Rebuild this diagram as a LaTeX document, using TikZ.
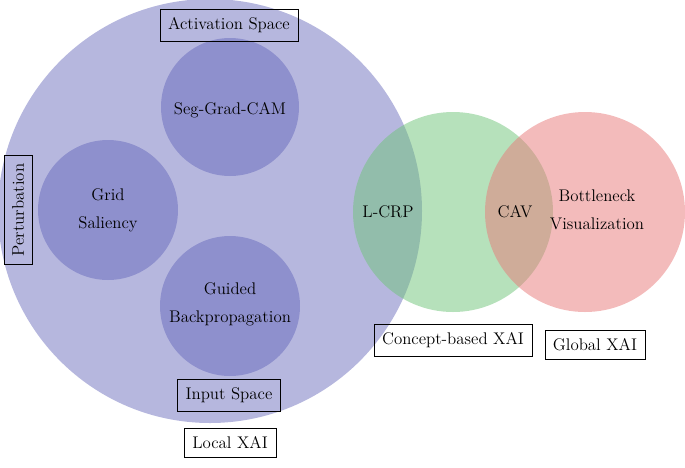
\documentclass[tikz,border=0pt]{standalone}
\begin{document}
\begin{tikzpicture}[x=0.03cm,y=-0.03cm,
  lbl/.style={font=\Large,align=center},
  box/.style={draw,font=\Large,inner sep=7pt}]
\useasboundingbox (0,0) rectangle (685,467);
\definecolor{bl}{RGB}{110,112,190}
\definecolor{gr}{RGB}{110,195,120}
\definecolor{rd}{RGB}{232,120,120}
\fill[bl,opacity=0.5] (210,211) circle (212);
\fill[bl,opacity=0.55] (230,107) circle (69);
\fill[bl,opacity=0.55] (108,210) circle (70);
\fill[bl,opacity=0.55] (230,306) circle (70);
\fill[gr,opacity=0.5] (453,212) circle (100);
\fill[rd,opacity=0.5] (585,212) circle (100);
\node[lbl] (sg) at (230,110) {Seg-Grad-CAM};
\node[lbl] (gs) at (108,210) {Grid\\[6pt]Saliency};
\node[lbl] (gb) at (230,304) {Guided\\[6pt]Backpropagation};
\node[lbl] (lc) at (388,212) {L-CRP};
\node[lbl] (cav) at (515,212) {CAV};
\node[lbl] (bv) at (597,210) {Bottleneck\\[6pt]Visualization};
\node[box] (as) at (229,25) {Activation Space};
\node[box,rotate=90] (pt) at (18,210) {Perturbation};
\node[box] (is) at (229,395) {Input Space};
\node[box] (lx) at (230,443) {Local XAI};
\node[box] (cx) at (453,340) {Concept-based XAI};
\node[box] (gx) at (595,345) {Global XAI};
\end{tikzpicture}
\end{document}
